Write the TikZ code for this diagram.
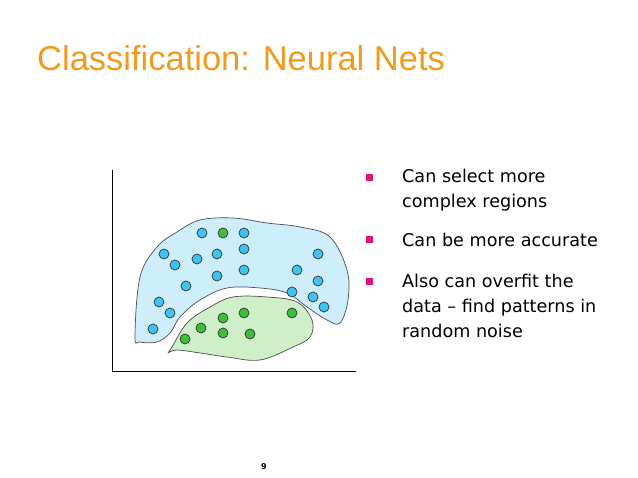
\documentclass[tikz,border=0pt]{standalone}
\usepackage{fontspec}
\setmainfont{DejaVu Sans}
\newfontfamily\titlefont{Liberation Sans}
\definecolor{ttl}{HTML}{F29A1E}
\definecolor{bl}{HTML}{CDEEFA}
\definecolor{gr}{HTML}{CFEFC9}
\definecolor{bdot}{HTML}{3EC3F0}
\definecolor{gdot}{HTML}{3DBE3D}
\definecolor{mag}{HTML}{E0127F}
\begin{document}
\begin{tikzpicture}[x=1pt,y=-1pt,
 bd/.style={circle,draw=black!80,fill=bdot,minimum size=10pt,inner sep=0pt,line width=0.7pt},
 gd/.style={circle,draw=black!80,fill=gdot,minimum size=10pt,inner sep=0pt,line width=0.7pt},
 bul/.style={fill=mag,minimum size=7pt,inner sep=0pt},
 txt/.style={anchor=west,font=\fontsize{17.6}{25}\selectfont,align=left,inner sep=0pt}]
\useasboundingbox (0,0) rectangle (638,478);
\node[anchor=west,text=ttl,font=\titlefont\fontsize{34.5}{36}\selectfont,inner sep=0pt] (title) at (37,58) {Classification: Neural Nets};
\coordinate (o) at (112,371);
\coordinate (yt) at (112,170);
\coordinate (xr) at (356,371);
\draw[line width=0.8pt] (yt) -- (o) -- (xr);
\draw[fill=bl,draw=black!70,line width=0.7pt] plot[smooth cycle,tension=0.6] coordinates {(135,337) (140,277) (157,247) (177,232) (200,220) (233,218) (267,223) (300,227) (330,237) (347,270) (348,300) (340,323) (327,320) (307,307) (287,293) (260,288) (227,288) (200,300) (180,317) (170,333) (157,342) (140,342)};
\draw[fill=gr,draw=black!70,line width=0.7pt] plot[smooth,tension=0.6] coordinates {(168,353) (172,347) (187,323) (210,307) (233,297) (267,297) (297,302) (312,320) (310,337) (293,347) (260,360) (227,357) (200,353) (177,350) (168,353)};
\foreach \n/\x/\y in {b1/202/233,b2/244/233,b3/244/249,b4/217/254,b5/197/259,b6/164/254,b7/175/265,b8/217/276,b9/244/270,b10/186/286,b11/159/302,b12/170/313,b13/153/329,b14/318/254,b15/297/270,b16/318/281,b17/292/292,b18/313/297,b19/324/307}
  \node[bd] (\n) at (\x,\y) {};
\foreach \n/\x/\y in {g0/223/233,g1/244/313,g2/292/313,g3/223/318,g4/201/328,g5/223/333,g6/250/334,g7/185/339}
  \node[gd] (\n) at (\x,\y) {};
\node[bul] (s1) at (369,178) {};
\node[bul] (s2) at (369,240) {};
\node[bul] (s3) at (369,282) {};
\node[txt] (t1) at (402,190) {Can select more\\complex regions};
\node[txt] (t2) at (402,240) {Can be more accurate};
\node[txt] (t3) at (402,306) {Also can overfit the\\data – find patterns in\\random noise};
\node[font=\bfseries\fontsize{8}{9}\selectfont] (pg) at (264,467) {9};
\end{tikzpicture}
\end{document}
